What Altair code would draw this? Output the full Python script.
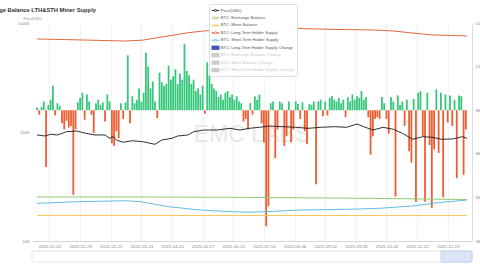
import altair as alt
import pandas as pd

title_text = "BTC Exchange Balance LTH&STH Miner Supply"
watermark = "EMC LABS"

series_names = [
    "Price(USD)",
    "BTC: Exchange Balance",
    "BTC: Miner Balance",
    "BTC: Long-Term Holder Supply",
    "BTC: Short-Term Holder Supply",
    "BTC: Long-Term Holder Supply Change",
    "BTC: Exchange Balance Change",
    "BTC: Miner Balance Change",
    "BTC: Short-Term Holder Supply Change",
]
series_colors = ["#333333", "#91cc75", "#fac858", "#e2683f", "#73c0de",
                 "#4656b8", "#cccccc", "#cccccc", "#cccccc"]
hidden_series = series_names[6:]

LINE_SYM = ("M-1.1,-0.15H-0.42V0.15H-1.1Z M0.42,-0.15H1.1V0.15H0.42Z "
            "M0.42,0A0.42,0.42,0,1,1,-0.42,0A0.42,0.42,0,1,1,0.42,0Z "
            "M0.22,0A0.22,0.22,0,1,0,-0.22,0A0.22,0.22,0,1,0,0.22,0Z")
RECT_SYM = "M-1.15,-0.62H1.15V0.62H-1.15Z"
series_shapes = [LINE_SYM] * 5 + [RECT_SYM] * 4

price_dates = ["2024-12-22", "2024-12-29", "2025-01-03", "2025-01-09", "2025-01-17", "2025-01-26",
               "2025-02-03", "2025-02-11", "2025-02-20", "2025-02-24", "2025-02-27", "2025-03-02",
               "2025-03-08", "2025-03-16", "2025-03-25", "2025-04-05", "2025-04-11", "2025-04-20",
               "2025-04-25", "2025-05-04", "2025-05-09", "2025-05-18", "2025-05-30", "2025-06-10",
               "2025-06-19", "2025-06-27", "2025-07-06", "2025-07-15", "2025-07-26", "2025-08-07",
               "2025-08-18", "2025-08-29", "2025-09-10", "2025-09-21", "2025-09-30", "2025-10-06",
               "2025-10-14", "2025-10-23", "2025-11-01", "2025-11-09", "2025-11-18", "2025-11-27",
               "2025-12-05", "2025-12-14", "2025-12-23", "2026-01-01", "2026-01-05"]
price_usd = [94000, 91900, 95300, 93900, 100600, 102100, 97300, 93900, 93900, 87500, 90600, 84400,
             80500, 83200, 81500, 77100, 84400, 87500, 91900, 93900, 100600, 104300, 104300, 108100,
             104300, 108100, 110400, 113500, 111900, 110400, 108100, 110400, 111900, 110400, 118400,
             111900, 104300, 110400, 105900, 97300, 85700, 90600, 89400, 85700, 86300, 90600, 87500]

lth_dates = ["2024-12-22", "2025-01-26", "2025-03-09", "2025-03-25", "2025-04-20", "2025-05-04",
             "2025-05-18", "2025-06-10", "2025-07-06", "2025-08-07", "2025-09-10", "2025-10-14",
             "2025-11-01", "2025-11-18", "2025-12-05", "2026-01-05"]
lth_supply_m = [13.90, 13.84, 13.76, 13.82, 14.15, 14.33, 14.45, 14.56, 14.64, 14.63, 14.56, 14.52,
                14.45, 14.31, 14.18, 14.11]

sth_dates = ["2024-12-22", "2025-01-26", "2025-03-09", "2025-03-22", "2025-04-17", "2025-05-15",
             "2025-06-10", "2025-06-27", "2025-07-12", "2025-08-10", "2025-09-21", "2025-10-20",
             "2025-11-18", "2025-12-11", "2026-01-05"]
sth_supply_m = [2.59, 2.70, 2.77, 2.72, 2.36, 2.13, 2.02, 1.98, 2.02, 2.13, 2.18, 2.25, 2.41, 2.64, 2.82]

exch_dates = ["2024-12-22", "2025-03-22", "2025-06-27", "2025-09-21", "2025-11-18", "2026-01-05"]
exch_balance_m = [3.03, 3.03, 3.00, 2.95, 2.90, 2.85]

miner_dates = ["2024-12-22", "2025-06-27", "2026-01-05"]
miner_balance_m = [1.76, 1.755, 1.75]

change_start = "2024-12-22"
lth_change_k = [
    3, -5, 4, 10, -65, 6, 12, 28, -6, 8, 5, -15, -22, -12, -20, -18, -97, -22, 9, 14,
    20, -11, 18, 10, -5, -26, 8, 12, 6, 9, -13, 18, 10, -38, -41,
    -24, -32, 8, -10, 9, 63, -15, 16, 8, 12, 25, 10, 20, 66, 50, 25, 33, 10, -9, 43,
    32, 28, 30, 51, 35, 39, 47, 30, 42, 35, 76, 45, 40, 30, 35, 22, 25, 18, 28, -4,
    55, 40, 30, 25, 22, 15, 18, 12, 20, 22, 15, 18, 12, 16, 10, 8, -13, -10, -22, 8,
    -5, 16, 12, 18, -15, -37,
    -133, -110, 8, 10, -55, -22, 10, 8, -41, -30, 10, -37, -22, 10, 7, -10, 9, -24, -39, 7,
    6, 10, -85, 10, 12, -7, 10, -6, 14, 16, 12, 10, 14, 8, 12, -8, 15, 10, 18, 12,
    16, 14, 22, 12, 15, -8, -51, -30, -10, -8, -10, 15, 8, -10, -27, 15, 10, -99, 17, 6,
    10, -18, 12, -47, -60, 13,
    -105, 20, 22, -30, -105, 20, -40, -112, -45, 24, -49, 20, -100, 18, -14, 17, -18, 12,
    -78, 17, 16, -74, -22,
]

x_ticks = ["2025-01-02", "2025-01-29", "2025-02-25", "2025-03-24", "2025-04-20", "2025-05-17",
           "2025-06-13", "2025-07-10", "2025-08-06", "2025-09-02", "2025-09-29", "2025-10-26",
           "2025-11-22", "2025-12-19"]
x_domain = ["2024-12-22", "2026-01-05"]
price_ticks = [10000, 100000, 1000000]
supply_ticks = [0, 3, 6, 9, 12, 15]
change_domain = [-150, 100]
supply_domain = [0, 15]

FONT = "Liberation Sans"
W, H = 440, 218


def dt(s):
    y, m, d = (int(p) for p in s.split("-"))
    return alt.DateTime(year=y, month=m, date=d, utc=True)


x_scale = alt.Scale(type="utc", domain=[dt(s) for s in x_domain])
x_axis = alt.Axis(values=[dt(s) for s in x_ticks], format="%Y-%m-%d", title=None,
                  labelFontSize=4.4, labelColor="#888888", labelFont=FONT, labelPadding=3,
                  ticks=False, domainColor="#cccccc", domainWidth=0.8,
                  grid=True, gridColor="#eeeeee", gridWidth=0.8, labelFlush=False)
X = alt.X("date:T", scale=x_scale, axis=x_axis)

price_df = pd.DataFrame({"date": price_dates, "v": price_usd})
lth_df = pd.DataFrame({"date": lth_dates, "v": lth_supply_m})
sth_df = pd.DataFrame({"date": sth_dates, "v": sth_supply_m})
exch_df = pd.DataFrame({"date": exch_dates, "v": exch_balance_m})
miner_df = pd.DataFrame({"date": miner_dates, "v": miner_balance_m})
change_df = pd.DataFrame({
    "date": pd.date_range(change_start, periods=len(lth_change_k), freq="2D").strftime("%Y-%m-%d"),
    "v": lth_change_k,
})
legend_df = pd.DataFrame({"series": series_names})

# title (the left part is cut by the picture's edge, as in the reference)
title_mark = alt.Chart(pd.DataFrame({"t": [title_text]})).mark_text(
    fontSize=5.8, font=FONT, fontWeight="bold", color="#333333", align="left",
    baseline="alphabetic"
).encode(text="t:N", x=alt.value(-67), y=alt.value(-10.7))

# watermark
wm = alt.Chart(pd.DataFrame({"t": [watermark]})).mark_text(
    fontSize=23, font=FONT, color="#e8e8e8", baseline="middle", align="center"
).encode(text="t:N", x=alt.value(W / 2), y=alt.value(112))

bars = alt.Chart(change_df).mark_bar(size=1.8).encode(
    x=X,
    y=alt.Y("v:Q", scale=alt.Scale(domain=change_domain), axis=None),
    color=alt.condition(alt.datum.v > 0, alt.value("#36c77a"), alt.value("#ee5c32")),
)

supply_axis = alt.Axis(orient="right", values=supply_ticks, labelExpr="datum.value + 'M'",
                       title=None, ticks=False, grid=False, domainColor="#dddddd",
                       labelFontSize=3.9, labelColor="#888888", labelFont=FONT, labelPadding=3)
SY = alt.Y("v:Q", scale=alt.Scale(domain=supply_domain), axis=supply_axis)


def sline(df, color):
    return alt.Chart(df).mark_line(color=color, strokeWidth=1).encode(x=X, y=SY)


supply = alt.layer(
    sline(exch_df, "#91cc75"),
    sline(miner_df, "#f7c55a"),
    sline(sth_df, "#62bde3"),
    sline(lth_df, "#e2683f"),
)

price = alt.Chart(price_df).mark_line(color="#1a1a1a", strokeWidth=0.9).encode(
    x=X,
    y=alt.Y("v:Q", scale=alt.Scale(type="log", domain=[10000, 1000000]),
            axis=alt.Axis(orient="left", values=price_ticks,
                          labelExpr="format(datum.value / 1000, 'd') + 'K'",
                          title="Price(USD)", titleAngle=0, titleX=0, titleY=-2.5,
                          titleAlign="center", titleBaseline="bottom", titleFontSize=3.6,
                          titleFontWeight="normal", titleColor="#888888", titleFont=FONT,
                          labelFontSize=3.9, labelColor="#888888", labelFont=FONT,
                          labelPadding=3, domain=False, ticks=False, grid=False)),
)

legend_cfg = alt.Legend(
    title=None, orient="none", legendX=177, legendY=-19, direction="vertical",
    fillColor="white", strokeColor="#dddddd", padding=3, cornerRadius=2,
    symbolSize=49, symbolStrokeWidth=0, symbolOpacity=1,
    labelFontSize=4.1, labelFont=FONT, labelOffset=1.7, rowPadding=1.45, labelLimit=300,
    labelColor=alt.ExprRef(
        "indexof(" + str(hidden_series) + ", datum.value) >= 0 ? '#c8c8c8' : '#555555'"
    ),
)
legend_layer = alt.Chart(legend_df).mark_point(filled=True, opacity=0).encode(
    color=alt.Color("series:N", scale=alt.Scale(domain=series_names, range=series_colors),
                    legend=legend_cfg),
    shape=alt.Shape("series:N", scale=alt.Scale(domain=series_names, range=series_shapes),
                    legend=legend_cfg),
)

one = pd.DataFrame({"a": [0]})
slider_bg = alt.Chart(one).mark_rect(fill="white", stroke="#dddddd", strokeWidth=0.8,
                                     cornerRadius=2).encode(
    x=alt.value(0), x2=alt.value(W), y=alt.value(228), y2=alt.value(239))
slider_win = alt.Chart(one).mark_rect(fill="#dce4f6", stroke="#b5c8ee", strokeWidth=0.8,
                                      cornerRadius=2).encode(
    x=alt.value(409), x2=alt.value(W), y=alt.value(228), y2=alt.value(239))

chart = alt.layer(
    wm, bars, supply, price, legend_layer, slider_bg, slider_win, title_mark
).resolve_scale(y="independent").properties(
    width=W, height=H,
    autosize=alt.AutoSizeParams(type="none"),
    padding={"left": 32, "top": 23, "right": 8, "bottom": 29},
    background="white",
).configure_view(stroke=None)

chart.save("out.html", embed_options={"renderer": "svg", "actions": False})
